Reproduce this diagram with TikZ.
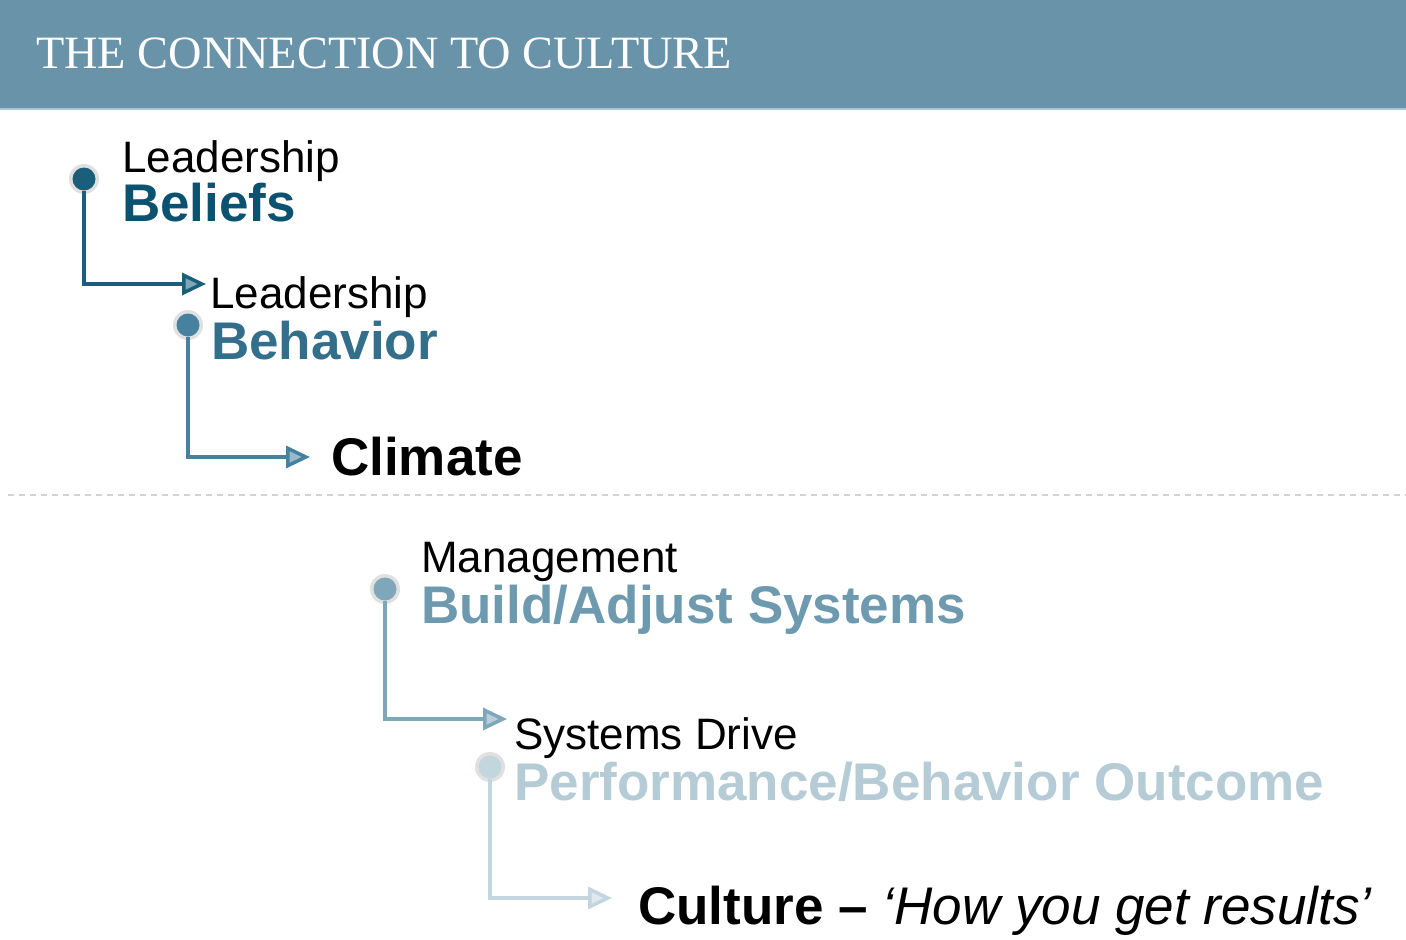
\documentclass[tikz,border=0pt]{standalone}
\usepackage{fontspec}
\setmainfont{Liberation Sans}
\newfontfamily\headfont{Liberation Serif}
\usetikzlibrary{arrows.meta}
\definecolor{headbg}{HTML}{6993A8}
\definecolor{headline}{HTML}{A9C5D3}
\definecolor{cA}{HTML}{1A5E7C}
\definecolor{tA}{HTML}{0B5170}
\definecolor{cB}{HTML}{4682A0}
\definecolor{tB}{HTML}{336F8A}
\definecolor{cC}{HTML}{7FA7BA}
\definecolor{tC}{HTML}{6E9AB0}
\definecolor{cD}{HTML}{C3D6DE}
\definecolor{tD}{HTML}{B5CBD5}
\definecolor{dashgray}{HTML}{D2D2D2}
\tikzset{
  small/.style={anchor=base west,inner sep=0pt,font=\fontsize{44}{50}\selectfont},
  big/.style={anchor=base west,inner sep=0pt,font=\fontsize{53}{58}\selectfont\bfseries},
  link/.style={line width=3.5pt,-{Triangle[open,length=24pt,width=22pt,line width=3.5pt,fill=#1!55]},draw=#1},
  halo/.style={circle,fill=black!12,minimum size=30pt,inner sep=0pt},
  dotc/.style={circle,fill=#1,minimum size=23pt,inner sep=0pt}
}
\begin{document}
\begin{tikzpicture}[x=1pt,y=-1pt]
\useasboundingbox (0,0) rectangle (1406,940);
\fill[white] (0,0) rectangle (1406,940);
\fill[headbg] (0,0) rectangle (1406,108);
\fill[headline] (0,108) rectangle (1406,110);
\node[anchor=base west,inner sep=0pt,text=white,font=\headfont\fontsize{46.3}{50}\selectfont] (title) at (36,68) {THE CONNECTION TO CULTURE};

% level 1
\node[halo] (h1) at (84,179) {};
\node[dotc=cA] (d1) at (84,179) {};
\node[small] (l1) at (122,172) {Leadership};
\node[big,text=tA] (b1) at (122,221) {Beliefs};
\coordinate (e1) at (84,284);
\coordinate (t1) at (206,284);
\draw[link=cA] (d1.south) -- (e1) -- (t1);

% level 2
\node[halo] (h2) at (188,325) {};
\node[dotc=cB] (d2) at (188,325) {};
\node[small] (l2) at (210,308) {Leadership};
\node[big,text=tB] (b2) at (211,359) {Behavior};
\coordinate (e2) at (188,457);
\coordinate (t2) at (310,457);
\draw[link=cB] (d2.south) -- (e2) -- (t2);

\node[big] (clim) at (331,475) {Climate};

\draw[dashgray,line width=2pt,dash pattern=on 6pt off 5pt] (8,495) -- (1406,495);

% level 3
\node[halo] (h3) at (385,589) {};
\node[dotc=cC] (d3) at (385,589) {};
\node[small] (l3) at (421,572) {Management};
\node[big,text=tC] (b3) at (421,623) {Build/Adjust Systems};
\coordinate (e3) at (385,719);
\coordinate (t3) at (507,719);
\draw[link=cC] (d3.south) -- (e3) -- (t3);

% level 4
\node[halo] (h4) at (490,767) {};
\node[dotc=cD] (d4) at (490,767) {};
\node[small] (l4) at (514,749) {Systems Drive};
\node[big,text=tD] (b4) at (514,800) {Performance/Behavior Outcome};
\coordinate (e4) at (490,898);
\coordinate (t4) at (612,898);
\draw[link=cD] (d4.south) -- (e4) -- (t4);

\node[anchor=base west,inner sep=0pt,font=\fontsize{53}{58}\selectfont] (cult) at (638,924) {\textbf{Culture –} \textit{‘How you get results’}};
\end{tikzpicture}
\end{document}
